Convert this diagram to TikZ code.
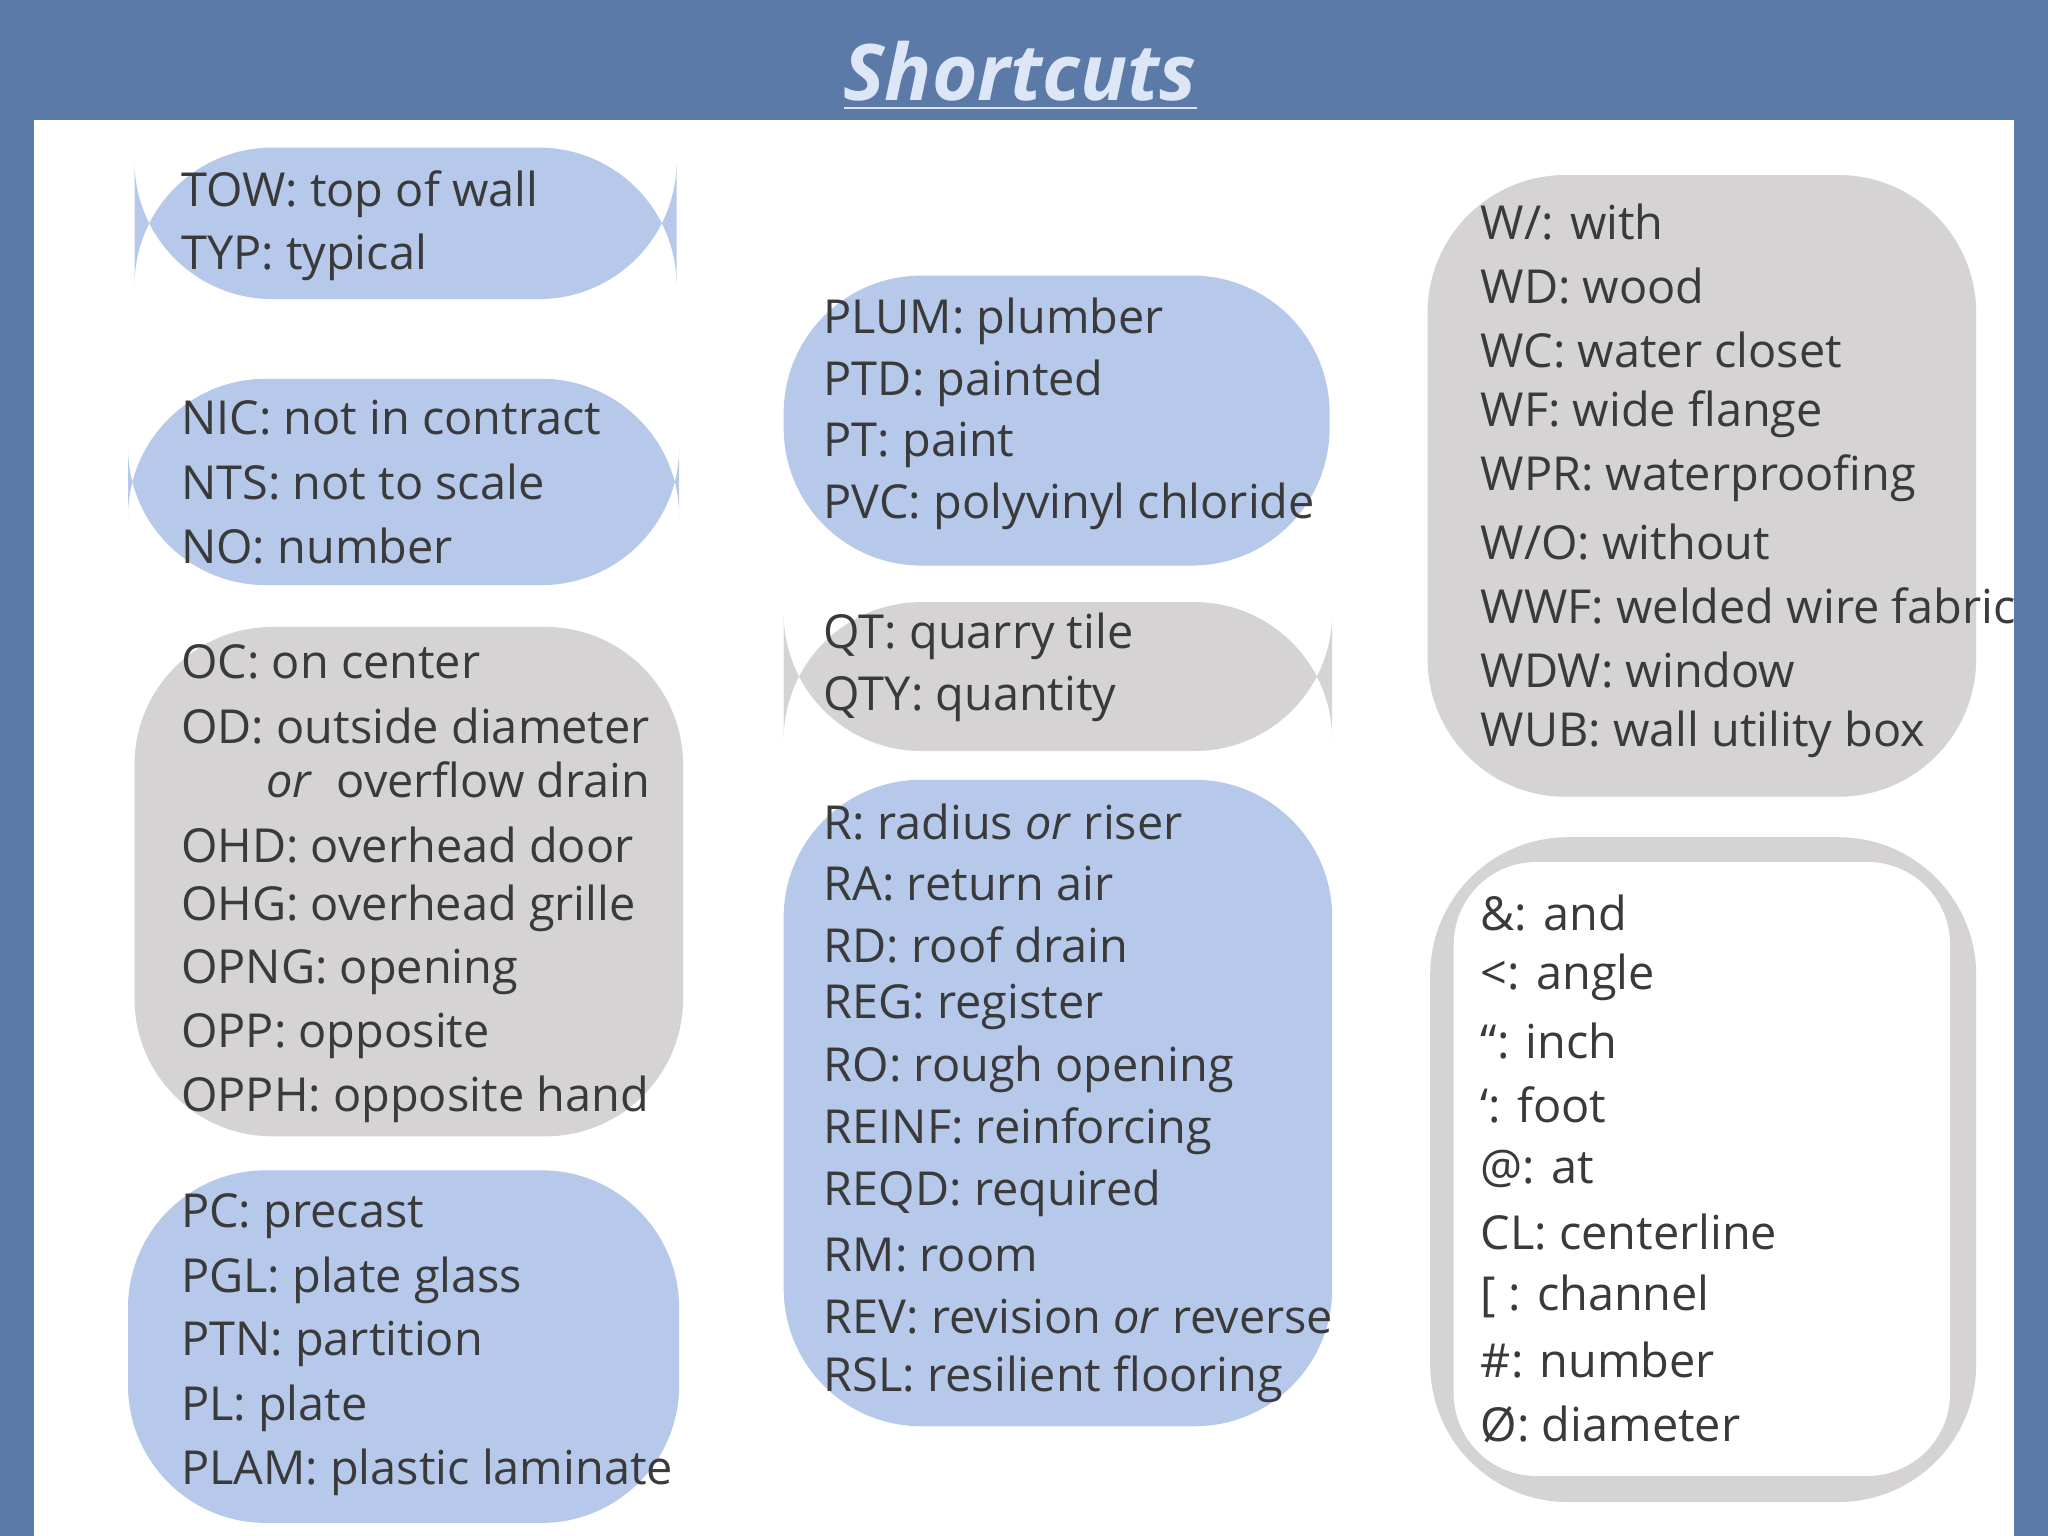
\documentclass[tikz,border=0pt]{standalone}
\usepackage{fontspec}
\setmainfont{Open Sans}
\usetikzlibrary{positioning}
\definecolor{backblue}{HTML}{5B7AA8}
\definecolor{boxblue}{HTML}{B6C9EB}
\definecolor{boxgray}{HTML}{D5D3D4}
\definecolor{textgray}{HTML}{3A3A3A}
\definecolor{titleblue}{HTML}{DCE6F6}
\tikzset{
  box/.style={rounded corners=30, draw=none},
  entry/.style={anchor=west, inner sep=0pt, text=textgray, font=\fontsize{10.2}{12}\selectfont},
}
% one column of entries starting at (x,y) with spacing d
\newcommand{\entries}[5]
{
  \foreach \t [count=\i from 0] in {#5}
    \node[entry] (#1-\i) at (#2,{#3+\i*#4}) {\t};
}
\begin{document}
\begin{tikzpicture}[x=0.01cm,y=-0.01cm]
	\useasboundingbox (0,0) rectangle (1568,1176);
	\fill[backblue] (0,0) rectangle (1568,1176);
	\fill[white] (26,92) rectangle (1542,1176);
	\node[font=\fontsize{17}{20}\bfseries\itshape\selectfont, text=titleblue] (title) at (781,58) {\underline{Shortcuts}};

	% left column
	\fill[box, boxblue] (103,113) rectangle (518,229);
	\entries{tow}{138}{149}{48}{TOW: top of wall, TYP: typical}
	\fill[box, boxblue] (98,290) rectangle (520,448);
	\entries{nic}{138}{320}{49}{NIC: not in contract, NTS: not to scale, NO: number}
	\fill[box, boxgray] (103,480) rectangle (523,870);
	\entries{oc}{138}{507}{49}{OC: on center, OD: outside diameter}
	\node[entry] (od2) at (203,597) {\textit{or}~ overflow drain};
	\entries{ohd}{138}{647}{48.75}{OHD: overhead door, OHG: overhead grille, OPNG: opening, OPP: opposite, OPPH: opposite hand}
	\fill[box, boxblue] (98,896) rectangle (520,1166);
	\entries{pc}{138}{931}{49}{PC: precast, PGL: plate glass, PTN: partition, PL: plate, PLAM: plastic laminate}

	% middle column
	\fill[box, boxblue] (600,211) rectangle (1018,433);
	\entries{plum}{630}{246}{47.3}{PLUM: plumber, PTD: painted, PT: paint, PVC: polyvinyl chloride}
	\fill[box, boxgray] (600,461) rectangle (1020,575);
	\entries{qt}{630}{487}{48}{QT: quarry tile, QTY: quantity}
	\fill[box, boxblue] (600,597) rectangle (1020,1092);
	\entries{r}{630}{629}{47.4}{R: radius \textit{or} riser, RA: return air, RD: roof drain, REG: register, RO: rough opening, REINF: reinforcing, REQD: required, RM: room, REV: revision \textit{or} reverse, RSL: resilient flooring}

	% right column
	\fill[box, boxgray] (1093,134) rectangle (1513,610);
	\entries{w}{1133}{170}{49}{W/: with, WD: wood, WC: water closet, WF: wide flange, WPR: waterproofing, W/O: without, WWF: welded wire fabric, WDW: window, WUB: wall utility box}
	\fill[box, boxgray] (1095,641) rectangle (1513,1150);
	\fill[white, rounded corners=18] (1113,660) rectangle (1493,1130);
	\entries{sym}{1133}{699}{48.9}{\&: and, <: angle, “: inch, ‘: foot, @: at, CL: centerline, [ : channel, \#: number, Ø: diameter}
\end{tikzpicture}
\end{document}
